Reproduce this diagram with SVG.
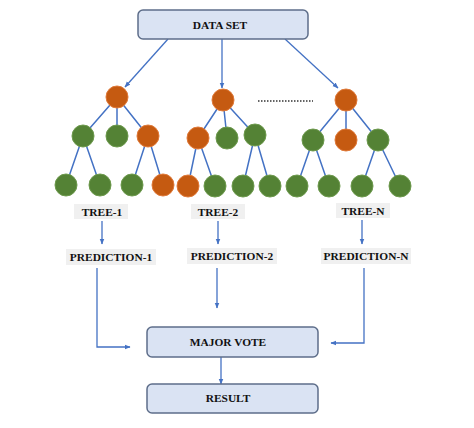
<svg xmlns="http://www.w3.org/2000/svg" width="474" height="428" viewBox="0 0 474 428">
<defs>
<style>
.box{fill:#DAE3F3;stroke:#5E6E8A;stroke-width:1.5}
.lbl{fill:#F0F0F0}
.t{font-family:"Liberation Serif","Times New Roman",serif;font-weight:bold;font-size:11.4px;fill:#111111;text-anchor:middle;dominant-baseline:central}
.e{stroke:#4472C4;stroke-width:1.5;fill:none}
.c{stroke:#4472C4;stroke-width:1.3;fill:none}
.o{fill:#C55A11;stroke:#E07A3A;stroke-width:1}
.g{fill:#548235;stroke:#6E9A4E;stroke-width:1}
</style>
<marker id="ah" viewBox="0 0 10 10" refX="9" refY="5" markerWidth="6" markerHeight="6" orient="auto" markerUnits="userSpaceOnUse">
<path d="M0,1 L10,5 L0,9 z" fill="#4472C4"/>
</marker>
</defs>
<rect width="474" height="428" fill="#ffffff"/>

<g id="connectors">
<line class="c" x1="168" y1="39" x2="125" y2="87" marker-end="url(#ah)"/>
<line class="c" x1="222" y1="39" x2="222" y2="88" marker-end="url(#ah)"/>
<line class="c" x1="285" y1="39" x2="338" y2="88" marker-end="url(#ah)"/>
<line class="c" x1="102" y1="221" x2="102" y2="244" marker-end="url(#ah)"/>
<line class="c" x1="218" y1="221" x2="218" y2="244" marker-end="url(#ah)"/>
<line class="c" x1="362" y1="220" x2="362" y2="244" marker-end="url(#ah)"/>
<polyline class="c" points="97,268 97,347 130,347" marker-end="url(#ah)"/>
<line class="c" x1="217" y1="268" x2="217" y2="308" marker-end="url(#ah)"/>
<polyline class="c" points="364,268 364,343 331,343" marker-end="url(#ah)"/>
<line class="c" x1="221" y1="357" x2="221" y2="384" marker-end="url(#ah)"/>
<line x1="258" y1="101" x2="313" y2="101" stroke="#333" stroke-width="1.5" stroke-dasharray="1.5,1.5"/>
</g>

<g id="tree-1-edges">
<path class="e" d="M117,97 L83,136 M117,97 L117,136 M117,97 L148,136 M83,136 L66,185 M83,136 L100,185 M148,136 L132,185 M148,136 L163,185"/>
</g>
<g id="tree-2-edges">
<path class="e" d="M223,100 L198,138 M223,100 L227,138 M223,100 L255,135 M198,138 L188,186 M198,138 L215,186 M255,135 L243,186 M255,135 L270,186"/>
</g>
<g id="tree-n-edges">
<path class="e" d="M346,100 L313,140 M346,100 L346,140 M346,100 L378,140 M313,140 L297,186 M313,140 L329,186 M378,140 L362,186 M378,140 L400,186"/>
</g>

<g id="tree-1">
<circle class="o" cx="117" cy="97" r="11"/>
<circle class="g" cx="83" cy="136" r="11"/>
<circle class="g" cx="117" cy="136" r="11"/>
<circle class="o" cx="148" cy="136" r="11"/>
<circle class="g" cx="66" cy="185" r="11"/>
<circle class="g" cx="100" cy="185" r="11"/>
<circle class="g" cx="132" cy="185" r="11"/>
<circle class="o" cx="163" cy="185" r="11"/>
</g>
<g id="tree-2">
<circle class="o" cx="223" cy="100" r="11"/>
<circle class="o" cx="198" cy="138" r="11"/>
<circle class="g" cx="227" cy="138" r="11"/>
<circle class="g" cx="255" cy="135" r="11"/>
<circle class="o" cx="188" cy="186" r="11"/>
<circle class="g" cx="215" cy="186" r="11"/>
<circle class="g" cx="243" cy="186" r="11"/>
<circle class="g" cx="270" cy="186" r="11"/>
</g>
<g id="tree-n">
<circle class="o" cx="346" cy="100" r="11"/>
<circle class="g" cx="313" cy="140" r="11"/>
<circle class="o" cx="346" cy="140" r="11"/>
<circle class="g" cx="378" cy="140" r="11"/>
<circle class="g" cx="297" cy="186" r="11"/>
<circle class="g" cx="329" cy="186" r="11"/>
<circle class="g" cx="362" cy="186" r="11"/>
<circle class="g" cx="400" cy="186" r="11"/>
</g>

<g id="data-set">
<rect class="box" x="138" y="10" width="170" height="29" rx="5"/>
<text class="t" x="220" y="24.5">DATA SET</text>
</g>

<g id="label-tree-1">
<rect class="lbl" x="74" y="204" width="54" height="15"/>
<text class="t" x="102" y="212">TREE-1</text>
</g>
<g id="label-tree-2">
<rect class="lbl" x="191" y="204" width="54" height="15"/>
<text class="t" x="218" y="212">TREE-2</text>
</g>
<g id="label-tree-n">
<rect class="lbl" x="336" y="203" width="54" height="15"/>
<text class="t" x="363" y="211">TREE-N</text>
</g>

<g id="prediction-1">
<rect class="lbl" x="66" y="249" width="90" height="16"/>
<text class="t" x="111" y="257">PREDICTION-1</text>
</g>
<g id="prediction-2">
<rect class="lbl" x="187" y="248" width="90" height="16"/>
<text class="t" x="232" y="256">PREDICTION-2</text>
</g>
<g id="prediction-n">
<rect class="lbl" x="321" y="248" width="90" height="16"/>
<text class="t" x="366" y="256">PREDICTION-N</text>
</g>

<g id="major-vote">
<rect class="box" x="147" y="327" width="171" height="30" rx="5"/>
<text class="t" x="228" y="342">MAJOR VOTE</text>
</g>
<g id="result">
<rect class="box" x="147" y="384" width="171" height="29" rx="5"/>
<text class="t" x="228" y="397.5">RESULT</text>
</g>
</svg>
